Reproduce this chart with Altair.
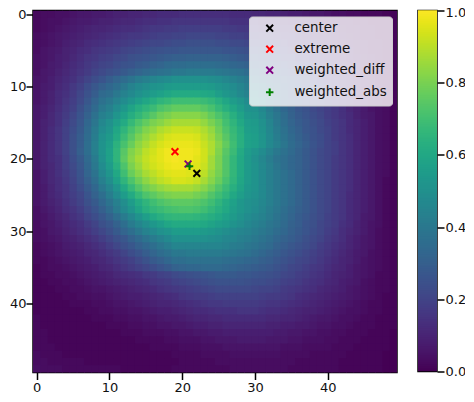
import altair as alt
import pandas as pd

R = [
[2,3,3,4,4,5,6,6,7,7,8,9,9,10,10,11,11,12,12,12,13,13,13,13,13,13,13,12,12,12,11,11,10,10,9,8,8,7,6,6,5,4,4,3,3,2,2,2,1,1],
[2,3,4,4,5,6,7,7,8,9,9,10,11,11,12,13,13,14,14,15,15,15,15,15,15,15,15,14,14,14,13,12,12,11,10,9,9,8,7,6,6,5,4,4,3,3,2,2,2,1],
[2,3,4,5,6,7,8,9,10,10,11,12,13,13,14,15,16,16,17,17,18,18,18,18,18,18,17,17,16,16,15,14,14,13,12,11,10,9,8,7,7,6,5,4,4,3,3,2,2,1],
[3,4,5,6,7,8,9,10,11,12,13,14,15,16,16,17,18,19,19,20,20,21,21,21,21,20,20,19,19,18,17,16,16,15,14,13,12,10,9,8,8,7,6,5,4,3,3,2,2,1],
[3,4,5,6,8,9,10,12,13,14,15,16,17,18,19,20,21,21,22,23,23,24,24,24,24,23,23,22,22,21,20,19,18,17,16,14,13,12,11,10,9,8,7,6,5,4,3,3,2,1],
[3,5,6,7,9,10,12,13,15,16,17,18,20,21,22,23,24,25,26,26,27,27,27,27,27,27,26,26,25,24,23,22,21,19,18,16,15,14,13,11,10,9,8,7,5,4,3,3,2,1],
[4,5,6,8,9,11,13,15,16,18,19,21,22,24,25,26,27,28,29,30,30,31,31,31,31,31,30,29,28,27,26,25,23,22,20,19,17,16,14,13,11,10,9,7,6,5,4,3,2,1],
[4,5,7,8,10,12,14,16,18,20,21,23,25,26,28,29,31,32,34,35,35,36,36,36,36,35,34,33,32,31,29,28,26,24,23,21,19,18,16,14,13,11,10,8,7,5,4,3,2,1],
[4,6,7,9,11,13,15,17,20,22,24,26,28,30,32,34,36,37,38,40,40,41,41,41,41,40,39,38,37,35,33,31,29,27,25,23,21,20,18,16,14,12,11,9,7,6,4,3,2,1],
[5,6,8,10,12,14,17,20,23,26,29,32,35,38,41,43,45,47,48,50,50,50,50,50,49,48,46,44,42,40,37,35,32,30,28,26,24,22,19,17,15,13,12,10,8,6,5,3,2,1],
[5,7,8,11,13,16,19,23,27,30,33,36,40,44,47,49,51,52,54,55,55,55,55,55,54,52,50,48,45,42,41,38,35,32,29,27,25,23,21,18,16,14,12,10,8,6,5,3,2,1],
[5,7,9,12,14,17,21,25,29,34,36,40,44,47,50,53,55,57,59,61,61,61,61,60,59,56,53,50,47,44,43,40,36,33,30,27,25,23,20,18,16,14,13,10,8,7,5,4,2,1],
[5,7,9,12,15,18,22,27,32,37,40,44,48,52,56,59,62,65,67,69,69,69,69,68,66,63,59,55,52,48,47,43,39,35,31,28,26,24,21,19,17,15,13,11,9,7,5,4,2,1],
[6,8,10,13,16,19,24,29,34,40,43,48,53,58,62,65,68,72,74,76,76,76,76,74,71,67,63,59,55,50,50,46,41,37,33,30,27,25,22,20,18,16,14,11,9,7,5,4,3,1],
[6,8,11,14,17,21,26,31,37,43,46,52,57,62,66,70,74,78,80,82,82,82,82,80,76,72,68,63,58,53,52,48,43,39,35,31,28,26,23,21,18,16,14,12,9,7,6,4,3,1],
[6,9,11,14,18,22,27,33,39,46,50,56,61,67,72,76,80,82,85,87,87,87,87,84,80,76,70,65,60,55,54,50,45,40,36,32,29,27,24,22,19,17,15,12,10,8,6,4,3,1],
[6,9,12,15,19,23,28,34,41,48,52,59,65,71,76,81,84,88,90,92,92,92,91,88,84,78,72,67,62,56,55,51,46,41,37,33,30,27,25,22,20,17,15,12,10,8,6,4,3,1],
[6,9,12,15,19,24,29,35,42,50,54,61,68,74,80,84,88,91,94,95,95,95,94,90,86,80,74,68,63,57,56,52,47,42,38,34,31,28,25,23,20,17,15,13,10,8,6,4,3,1],
[6,9,12,15,19,24,29,36,43,51,56,64,71,77,83,87,91,94,96,97,97,97,96,92,88,82,76,69,63,57,56,52,47,43,39,35,32,29,26,23,20,18,15,13,10,8,6,4,3,1],
[6,9,12,15,19,24,30,36,43,51,57,65,74,81,85,90,93,96,98,100,98,98,97,93,88,81,74,68,61,55,52,48,44,40,37,34,31,28,25,22,20,18,15,13,10,8,6,4,3,1],
[6,9,12,14,18,23,28,34,41,50,57,65,75,82,87,91,94,96,98,99,98,98,96,93,86,80,73,66,60,54,50,46,42,38,36,33,31,28,25,22,20,17,15,13,10,8,6,4,3,1],
[6,9,11,14,18,22,27,33,40,48,55,63,72,80,85,90,93,95,97,98,98,97,95,92,86,80,73,66,60,54,51,47,43,39,36,33,31,28,25,22,20,17,15,13,10,8,6,4,3,1],
[5,8,11,14,17,21,26,32,38,46,52,60,69,77,82,87,90,93,95,96,96,95,94,90,84,79,73,66,60,54,51,47,43,40,37,34,31,28,25,22,20,17,15,13,10,8,6,4,3,1],
[5,8,11,13,16,20,25,30,36,43,49,57,65,72,78,83,87,90,92,94,94,93,91,87,82,77,71,65,59,54,51,47,43,40,37,34,31,28,25,22,20,17,15,13,10,8,6,4,2,1],
[5,7,10,13,15,19,23,28,33,40,45,52,60,67,73,78,81,84,86,87,87,87,85,82,78,73,68,63,58,53,51,47,43,40,37,34,31,28,25,22,20,17,15,13,10,8,6,4,2,1],
[5,7,10,12,15,18,21,26,31,36,42,48,55,61,67,72,75,78,80,81,81,81,79,77,73,69,65,60,56,52,50,47,43,40,37,34,31,28,25,22,20,17,15,12,10,8,6,4,2,1],
[5,7,9,11,14,17,20,24,28,33,38,43,49,55,61,65,69,72,74,75,75,75,74,72,69,65,61,57,53,50,49,46,43,40,37,34,31,28,25,22,20,17,15,12,10,8,6,4,2,1],
[4,6,8,10,13,15,18,22,26,30,35,41,47,52,58,63,66,68,70,71,72,72,71,69,66,63,60,56,53,50,48,45,42,39,36,33,30,28,25,22,20,17,15,12,10,8,6,4,2,1],
[4,5,7,9,11,14,16,20,23,27,31,36,41,46,51,56,60,63,65,66,66,66,65,64,62,60,57,54,51,48,46,44,41,38,35,32,29,27,24,22,19,17,15,12,10,7,6,4,2,1],
[3,5,6,8,10,12,14,17,20,24,27,31,36,41,45,49,53,56,59,61,61,61,61,60,58,56,54,51,49,46,44,42,39,37,34,31,29,26,24,21,19,17,14,12,9,7,5,4,2,1],
[3,4,6,7,9,11,13,15,18,21,24,28,32,36,40,44,47,50,52,55,55,55,55,54,53,51,49,47,45,44,42,40,38,35,33,30,28,26,23,21,18,16,13,11,9,7,5,3,2,1],
[3,4,5,6,8,9,11,13,15,18,21,24,27,31,34,38,41,44,47,50,50,50,50,50,49,48,46,45,43,42,40,38,36,33,31,29,27,24,22,20,17,15,13,10,8,6,5,3,2,1],
[2,3,4,5,7,8,9,11,13,15,18,21,24,27,30,33,36,39,42,45,45,45,45,45,45,45,44,42,41,39,38,36,34,31,29,27,25,23,21,18,16,14,12,10,8,6,5,3,2,1],
[2,3,4,5,6,7,8,10,11,13,15,17,20,23,26,29,32,35,37,40,40,41,41,41,41,41,40,39,38,37,35,33,31,29,27,25,23,21,19,17,15,13,11,9,7,6,4,3,2,1],
[2,2,3,4,5,6,7,8,10,11,13,15,17,19,22,25,28,30,33,36,36,37,37,37,37,37,36,35,34,33,32,30,29,27,25,23,21,20,18,16,14,12,10,9,7,5,4,3,2,1],
[1,2,3,3,4,5,6,7,8,10,11,13,15,17,19,21,23,26,28,31,32,33,33,34,34,34,33,32,31,30,29,28,27,25,23,21,20,18,16,15,13,11,10,8,6,5,4,3,2,1],
[1,2,2,3,3,4,5,6,7,8,9,11,12,13,14,16,17,19,20,22,23,24,25,26,27,28,28,28,27,27,26,25,24,23,21,20,18,17,15,14,12,10,9,8,6,5,4,2,2,1],
[1,1,2,2,3,3,4,5,6,7,8,9,10,11,12,13,15,16,17,19,20,21,22,23,24,25,25,25,25,24,23,23,22,21,19,18,17,15,14,13,11,10,8,7,6,4,3,2,2,1],
[1,1,1,2,2,3,3,4,5,5,6,7,8,9,10,11,12,14,15,16,17,18,19,20,21,22,22,22,22,22,21,20,20,19,17,16,15,14,13,11,10,9,8,6,5,4,3,2,2,1],
[1,1,1,1,2,2,3,3,4,4,5,6,7,8,8,9,10,11,12,13,15,16,17,17,18,19,19,19,19,19,19,18,17,17,16,15,13,12,11,10,9,8,7,6,5,4,3,2,1,1],
[1,1,1,1,1,2,2,2,3,3,4,5,5,6,7,8,9,10,10,11,12,13,14,15,16,16,17,17,17,17,17,16,15,15,14,13,12,11,10,9,8,7,6,5,4,3,2,2,1,1],
[1,1,1,1,1,1,1,2,2,3,3,4,4,5,5,6,7,8,8,9,10,11,12,12,13,14,14,14,15,15,15,14,13,13,12,11,10,9,9,8,7,6,5,4,4,3,2,2,1,1],
[2,1,1,1,1,1,1,1,2,2,2,3,3,4,4,5,5,6,7,7,8,9,10,10,11,11,12,12,12,12,12,12,11,11,10,10,9,8,7,6,6,5,4,4,3,2,2,1,1,1],
[2,1,1,1,1,1,1,1,1,1,2,2,2,3,3,4,4,5,5,6,6,7,8,8,9,9,10,10,10,10,10,10,9,9,8,8,7,7,6,5,5,4,4,3,2,2,2,1,1,1],
[2,2,1,1,1,1,1,1,1,1,1,1,2,2,2,3,3,3,4,4,5,5,6,6,7,7,8,8,8,8,8,8,8,7,7,6,6,5,5,4,4,3,3,2,2,2,1,1,1,0],
[2,2,1,1,1,1,1,1,1,1,1,1,1,1,2,2,2,2,3,3,4,4,4,5,5,6,6,6,7,7,7,7,6,6,6,5,5,4,4,4,3,3,2,2,2,1,1,1,1,0],
[2,2,2,1,1,1,1,1,1,1,1,1,1,1,1,1,2,2,2,2,3,3,3,4,4,4,5,5,5,5,5,5,5,5,4,4,4,3,3,3,3,2,2,2,1,1,1,1,1,0],
[3,2,2,2,1,1,1,1,1,1,1,1,1,1,1,1,1,1,1,2,2,2,2,3,3,3,3,4,4,4,4,4,4,4,3,3,3,3,2,2,2,2,2,1,1,1,1,1,0,0],
[3,3,2,2,2,2,2,1,1,1,1,1,1,1,1,1,1,1,1,1,2,2,2,2,2,3,3,3,3,3,3,3,3,3,3,3,2,2,2,2,2,2,1,1,1,1,1,1,0,0],
[4,3,3,3,2,2,2,2,2,2,2,2,1,1,1,1,1,1,1,2,2,2,2,2,2,2,2,3,3,3,3,3,3,3,3,2,2,2,2,2,2,2,1,1,1,1,1,1,0,0],
]
labels = ["center", "extreme", "weighted_diff", "weighted_abs"]
mx = [22, 19, 20.8, 21]
my = [22, 19, 20.7, 21]
mc = ["black", "red", "purple", "green"]
X_PATH = "M-1,-1L1,1M-1,1L1,-1"
PLUS_PATH = "M-1.1,0L1.1,0M0,-1.1L0,1.1"
shapes = [X_PATH, X_PATH, X_PATH, PLUS_PATH]
ticks = [0, 10, 20, 30, 40]
cb_ticks = [0, 0.2, 0.4, 0.6, 0.8, 1.0]
cb_vals = [i / 200 for i in range(200)]

rows = [dict(r=i, c=j, v=R[i][j] / 100) for i in range(len(R)) for j in range(len(R[i]))]
df = pd.DataFrame(rows)
df["x0"] = df.c - 0.5
df["x1"] = df.c + 0.62
df["y0"] = df.r - 0.5
df["y1"] = df.r + 0.62
pts = pd.DataFrame({"label": labels, "x": mx, "y": my})
cb = pd.DataFrame({"v": cb_vals})
cb["v2"] = cb.v + 0.012

FONT = "DejaVu Sans"
axis_common = dict(
    domain=False, grid=False, tickColor="black", tickSize=7, tickWidth=1.5,
    labelFont=FONT, labelFontSize=13, labelColor="#111", title=None,
)
xs = alt.Scale(domain=[-0.5, 49.5], nice=False, zero=False)
ys = alt.Scale(domain=[49.5, -0.5], nice=False, zero=False)
col = alt.Scale(scheme="viridis", domain=[0, 1])

heat = alt.Chart(df).mark_rect(clip=True).encode(
    x=alt.X("x0:Q", scale=xs, axis=alt.Axis(values=ticks, format="d", labelAngle=0, labelPadding=2, **axis_common)),
    x2="x1:Q",
    y=alt.Y("y0:Q", scale=ys, axis=alt.Axis(values=ticks, format="d", labelPadding=0, **axis_common)),
    y2="y1:Q",
    fill=alt.Fill("v:Q", scale=col, legend=None),
)
leg = alt.Legend(
    title=None, orient="none", legendX=216, legendY=6, fillColor="rgba(255,255,255,0.8)",
    strokeColor="#cccccc", cornerRadius=3, padding=5, labelFont=FONT, labelFontSize=13.4,
    labelColor="#111", symbolStrokeWidth=2, symbolSize=46, rowPadding=5, labelOffset=18,
    symbolOffset=9, symbolOpacity=1,
)
points = alt.Chart(pts).mark_point(filled=False, size=46, strokeWidth=2, opacity=1).encode(
    x=alt.X("x:Q", scale=xs),
    y=alt.Y("y:Q", scale=ys),
    stroke=alt.Stroke("label:N", scale=alt.Scale(domain=labels, range=mc), sort=labels, legend=leg),
    shape=alt.Shape("label:N", scale=alt.Scale(domain=labels, range=shapes), sort=labels, legend=leg),
)
main = alt.layer(heat, points).properties(width=364, height=362)

top_label_shift = alt.expr("datum.value == 1 ? 2 : 0")
colorbar = alt.Chart(cb).mark_rect(clip=True).encode(
    x=alt.value(0), x2=alt.value(19),
    y=alt.Y("v:Q", scale=alt.Scale(domain=[0, 1], nice=False), axis=alt.Axis(
        orient="right", values=cb_ticks, format=".1f", labelOffset=top_label_shift, labelPadding=1, **axis_common)),
    y2="v2:Q",
    fill=alt.Fill("v:Q", scale=col, legend=None),
).properties(width=19, height=361)

chart = alt.hconcat(main, colorbar, spacing=19).properties(
    padding=alt.Padding(left=0, top=-2.5, right=-2, bottom=-2),
).configure_view(stroke="black", strokeWidth=1.5)
chart.save("out.html", embed_options={"renderer": "svg", "actions": False})
